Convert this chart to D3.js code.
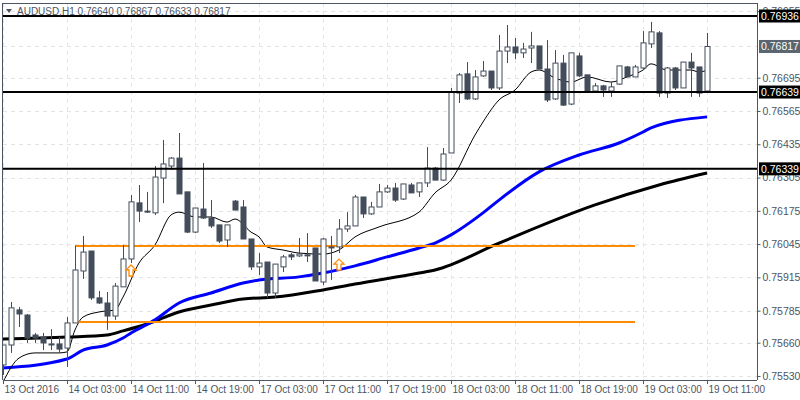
<!DOCTYPE html>
<html><head><meta charset="utf-8">
<script src="https://cdn.jsdelivr.net/npm/d3@7/dist/d3.min.js"></script>
<style>body{margin:0;background:#fff}svg{display:block}text{font-family:"Liberation Sans",Arial,sans-serif}</style>
</head><body><svg id="c" width="800" height="400"></svg>
<script>
const title = "AUDUSD,H1  0.76640 0.76867 0.76633 0.76817";
const timeLabels = ["13 Oct 2016","14 Oct 03:00","14 Oct 11:00","14 Oct 19:00","17 Oct 03:00","17 Oct 11:00","17 Oct 19:00","18 Oct 03:00","18 Oct 11:00","18 Oct 19:00","19 Oct 03:00","19 Oct 11:00"];
const open = [.75573,.75651,.75788,.75768,.75690,.75682,.75655,.75655,.75639,.75737,.75940,.76018,.75835,.75815,.75764,.75878,.75987,.76206,.76174,.76167,.76303,.76350,.76381,.76249,.76092,.76182,.76147,.76120,.76061,.76213,.76190,.76065,.75956,.75975,.75854,.75956,.76003,.75999,.76003,.76030,.75897,.76034,.76034,.76104,.76116,.76229,.76163,.76190,.76249,.76264,.76221,.76276,.76249,.76284,.76342,.76295,.76401,.76635,.76710,.76612,.76702,.76721,.76655,.76799,.76815,.76792,.76811,.76819,.76729,.76612,.76752,.76592,.76780,.76706,.76643,.76663,.76643,.76670,.76737,.76698,.76733,.76827,.76870,.76635,.76733,.76655,.76756,.76737,.76643];
const high = [.75651,.75819,.75799,.75772,.75698,.75698,.75713,.75682,.75760,.76038,.76077,.76018,.75862,.75858,.75893,.76042,.76237,.76276,.76249,.76350,.76452,.76385,.76479,.76249,.76186,.76362,.76217,.76120,.76120,.76217,.76217,.76065,.76010,.75975,.75967,.76003,.76010,.76069,.76088,.76030,.76069,.76077,.76143,.76170,.76237,.76229,.76210,.76280,.76276,.76284,.76280,.76284,.76284,.76424,.76346,.76420,.76655,.76713,.76756,.76725,.76760,.76721,.76862,.76901,.76850,.76831,.76874,.76819,.76842,.76803,.76784,.76792,.76792,.76706,.76674,.76667,.76678,.76741,.76741,.76745,.76877,.76913,.76877,.76737,.76737,.76756,.76792,.76737,.76870];
const low = [.75534,.75620,.75721,.75659,.75659,.75631,.75631,.75620,.75565,.75737,.75909,.75827,.75811,.75710,.75749,.75878,.75971,.76131,.76167,.76159,.76205,.76335,.76241,.76088,.76088,.76143,.76108,.76049,.76034,.76178,.76065,.75944,.75924,.75835,.75835,.75936,.75983,.75995,.75975,.75901,.75885,.75905,.76010,.76092,.76116,.76147,.76159,.76190,.76245,.76210,.76217,.76245,.76229,.76268,.76295,.76292,.76401,.76596,.76608,.76608,.76698,.76647,.76647,.76752,.76768,.76772,.76752,.76729,.76600,.76608,.76585,.76588,.76698,.76635,.76635,.76620,.76620,.76667,.76698,.76698,.76725,.76811,.76620,.76616,.76647,.76655,.76620,.76620,.76635];
const close = [.75651,.75796,.75772,.75678,.75678,.75659,.75653,.75635,.75737,.75944,.76014,.75835,.75815,.75764,.75881,.75987,.76210,.76174,.76170,.76307,.76358,.76381,.76241,.76092,.76186,.76147,.76116,.76057,.76120,.76178,.76065,.75956,.75971,.75854,.75967,.75995,.75995,.76006,.76001,.75901,.76065,.76032,.76104,.76116,.76229,.76163,.76190,.76249,.76264,.76217,.76280,.76245,.76284,.76342,.76295,.76397,.76639,.76706,.76612,.76698,.76721,.76655,.76799,.76815,.76792,.76807,.76819,.76729,.76608,.76752,.76588,.76792,.76702,.76643,.76663,.76647,.76659,.76741,.76698,.76737,.76831,.76874,.76635,.76733,.76655,.76756,.76733,.76635,.76817];
// indicator readings: [candle index, price]
const fastMA = [[0,.75506],[2,.75600],[4,.75620],[7,.75620],[8,.75624],[9,.75710],[10,.75760],[12,.75780],[14,.75788],[15,.75838],[17,.75971],[19,.76042],[21,.76159],[22,.76170],[24,.76151],[26,.76151],[28,.76131],[29,.76143],[31,.76092],[32,.76073],[33,.76034],[35,.76022],[37,.76010],[40,.76006],[42,.76022],[44,.76073],[47,.76112],[52,.76170],[54,.76245],[56,.76295],[59,.76471],[60,.76522],[62,.76608],[64,.76647],[66,.76717],[67,.76725],[69,.76694],[71,.76678],[73,.76698],[76,.76678],[78,.76698],[80,.76725],[81,.76749],[83,.76725],[86,.76725],[87,.76717],[88,.76725]];
const midMA = [[0,.75561],[8,.75596],[10,.75631],[13,.75651],[15,.75678],[16,.75698],[19,.75749],[22,.75815],[26,.75854],[30,.75893],[32,.75905],[37,.75917],[40,.75932],[44,.75960],[48,.75995],[52,.76030],[54,.76049],[56,.76081],[60,.76167],[62,.76217],[67,.76327],[72,.76393],[77,.76440],[80,.76483],[81,.76499],[88,.76542]];
const slowMA = [[0,.75674],[8,.75682],[13,.75690],[15,.75706],[18,.75733],[22,.75780],[26,.75807],[30,.75831],[34,.75838],[40,.75866],[44,.75889],[52,.75932],[54,.75944],[62,.76049],[74,.76198],[82,.76276],[88,.76323]];
const blackLevels = [0.76936, 0.76639, 0.76339];
const orangeLevels = [0.76038, 0.75741];
const orangeSpan = [9, 79];
const arrows = [[16, .75940],[42, .75963]];
const priceTicks = [0.76955,0.76695,0.76565,0.76435,0.76305,0.76175,0.76045,0.75915,0.75785,0.75660,0.75530];
const lastPrice = 0.76817;

const svg = d3.select("#c");
const L=3, R=757, B=380, T=3;
const x = d3.scaleLinear().domain([0,94.25]).range([3,757]);
const y = d3.scaleLinear().domain([0.769985, 0.769985-0.00003906*400]).range([0,400]);
const axisCol="#4c5563", dark="#434d5b";

svg.append("defs").append("clipPath").attr("id","pc").append("rect").attr("x",L).attr("y",T).attr("width",R-L).attr("height",B-T);
const g = svg.append("g").attr("clip-path","url(#pc)");

priceTicks.concat(blackLevels,[lastPrice]).forEach(p=>{
  g.append("line").attr("x1",L).attr("x2",R).attr("y1",Math.round(y(p))+.5).attr("y2",Math.round(y(p))+.5)
   .attr("stroke","#e4e4e4").attr("stroke-dasharray","4,4");
});
timeLabels.forEach((t,i)=>{
  g.append("line").attr("x1",x(i*8)+.5).attr("x2",x(i*8)+.5).attr("y1",T).attr("y2",B)
   .attr("stroke","#e4e4e4").attr("stroke-dasharray","4,4");
});

const ln = d3.line().x(d=>x(d[0])).y(d=>y(d[1])).curve(d3.curveMonotoneX);
g.append("path").attr("d",ln(slowMA)).attr("fill","none").attr("stroke","#000").attr("stroke-width",3);
g.append("path").attr("d",ln(midMA)).attr("fill","none").attr("stroke","#0000ff").attr("stroke-width",3);
g.append("path").attr("d",ln(fastMA)).attr("fill","none").attr("stroke","#000").attr("stroke-width",1);

orangeLevels.forEach(p=>{
  g.append("line").attr("x1",x(orangeSpan[0])).attr("x2",x(orangeSpan[1])).attr("y1",y(p)).attr("y2",y(p))
   .attr("stroke","#ff8c00").attr("stroke-width",2);
});

const bw=5;
open.forEach((o,i)=>{
  const c=close[i], cx=Math.round(x(i))+.5;
  g.append("line").attr("x1",cx).attr("x2",cx).attr("y1",y(high[i])).attr("y2",y(low[i])).attr("stroke",dark);
  const top=y(Math.max(o,c)), bot=y(Math.min(o,c));
  g.append("rect").attr("x",cx-bw/2).attr("y",top).attr("width",bw).attr("height",Math.max(1,bot-top))
   .attr("fill",c>=o?"#fff":dark).attr("stroke",dark).attr("stroke-width",1);
});

blackLevels.forEach(p=>{
  g.append("line").attr("x1",L).attr("x2",R).attr("y1",y(p)).attr("y2",y(p)).attr("stroke","#000").attr("stroke-width",2);
});

arrows.forEach(a=>{
  const ax=x(a[0]), ay=y(a[1]);
  g.append("path").attr("d",`M${ax},${ay-6} L${ax+5},${ay-1} L${ax+2},${ay-1} L${ax+2},${ay+5} L${ax-2},${ay+5} L${ax-2},${ay-1} L${ax-5},${ay-1} Z`)
   .attr("fill","#fff").attr("stroke","#ff8c00").attr("stroke-width",1.3);
});

svg.append("line").attr("x1",R+.5).attr("x2",R+.5).attr("y1",T).attr("y2",B).attr("stroke",axisCol);
svg.append("line").attr("x1",L-.5).attr("x2",L-.5).attr("y1",T).attr("y2",B).attr("stroke",axisCol);
svg.append("line").attr("x1",L).attr("x2",R).attr("y1",T+.5).attr("y2",T+.5).attr("stroke",axisCol);

const ya = svg.append("g").attr("transform",`translate(${R+.5},0)`)
  .call(d3.axisRight(y).tickValues(priceTicks).tickFormat(d3.format(".5f")).tickSize(3).tickSizeOuter(0));
ya.select(".domain").remove();
ya.selectAll("line").attr("stroke",axisCol);
ya.selectAll("text").attr("fill","#4c5563").attr("font-size",10.5).attr("x",5);

blackLevels.concat([lastPrice]).forEach(p=>{
  const yy=y(p);
  svg.append("rect").attr("x",R+2).attr("y",yy-6.5).attr("width",41).attr("height",13).attr("fill",p===lastPrice?"#5b6570":"#000");
  svg.append("text").attr("x",R+4).attr("y",yy+4).attr("fill","#fff").attr("font-size",10.5).text(d3.format(".5f")(p));
});

svg.append("line").attr("x1",L).attr("x2",R).attr("y1",B+.5).attr("y2",B+.5).attr("stroke",axisCol);
timeLabels.forEach((t,i)=>{
  const xx=Math.round(x(i*8))+.5;
  svg.append("line").attr("x1",xx).attr("x2",xx).attr("y1",B).attr("y2",B+4).attr("stroke",axisCol);
  svg.append("text").attr("x",xx+1).attr("y",393).attr("fill","#4c5563").attr("font-size",10).text(t);
});

svg.append("path").attr("d","M6,9 L12,9 L9,13 Z").attr("fill","#4c5563");
svg.append("text").attr("x",17).attr("y",15).attr("fill","#4c5563").attr("font-size",10).text(title);
</script></body></html>
